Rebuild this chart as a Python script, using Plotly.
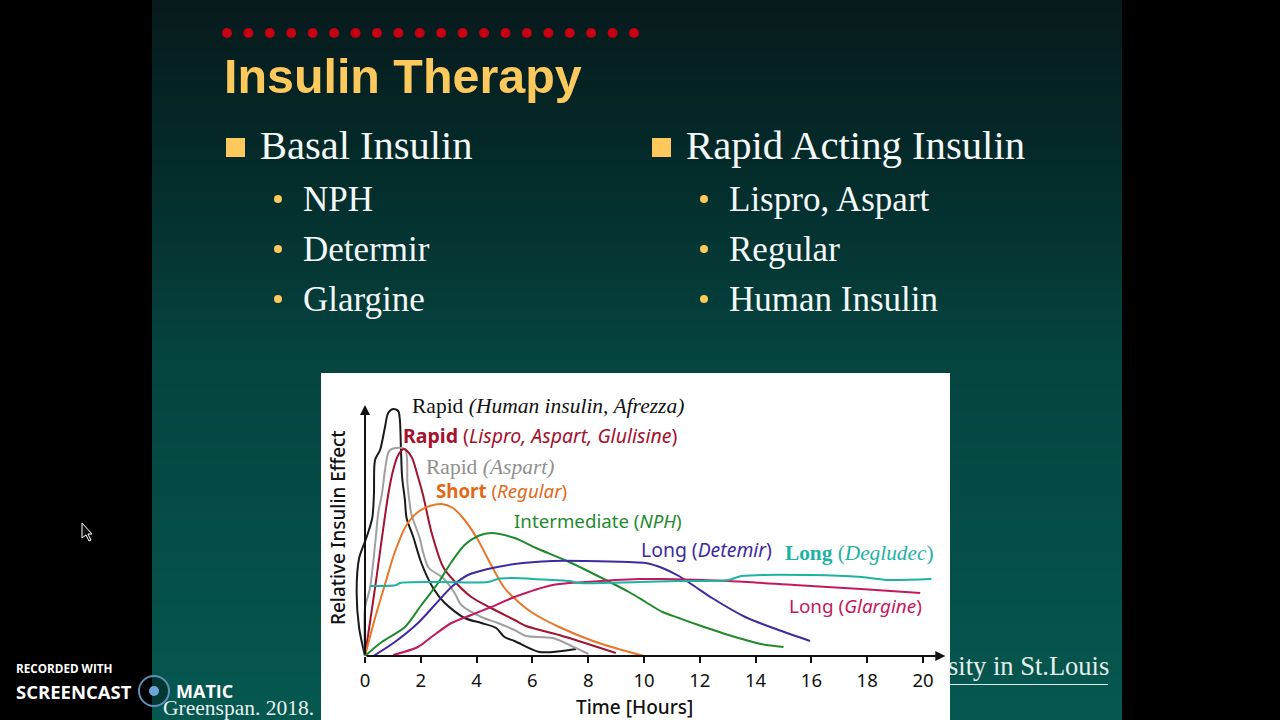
import plotly.graph_objects as go

W, H = 1280, 720

# curves: hours, relative effect
afrezza_x = [0, -0.21, -0.3, -0.21, 0.06, 0.26, 0.32, 0.36, 0.54, 0.71, 0.83, 1.01, 1.19, 1.25, 1.29, 1.33, 1.43, 1.49, 1.73, 2.02, 2.44, 2.86, 3.57, 4.17, 4.7, 5.0, 5.36, 6.25, 7.56]
afrezza_y = [0, 28, 64, 98, 119, 138, 161, 196, 206, 228, 243, 247, 245, 236, 206, 179, 156, 138, 119, 93, 68, 53, 38, 33, 28, 19, 15, 4, 7]
aspart_x = [0, 0, 0.18, 0.36, 0.48, 0.6, 0.83, 0.95, 1.43, 1.52, 1.61, 1.67, 1.96, 2.08, 2.29, 2.8, 3.21, 3.45, 4.17, 4.76, 5.36, 5.77, 6.73, 7.56, 8.01]
aspart_y = [0, 48, 68, 111, 144, 161, 203, 207, 207, 173, 151, 141, 118, 104, 88, 78, 63, 51, 39, 33, 26, 20, 18, 8, 2]
lispro_x = [0, 0.36, 0.83, 1.01, 1.19, 1.4, 1.67, 1.9, 2.08, 2.38, 2.8, 3.1, 3.81, 4.52, 5.36, 5.77, 6.96, 8.99]
lispro_y = [0, 68, 161, 186, 201, 207, 199, 179, 161, 124, 89, 78, 59, 48, 36, 30, 21, 3]
regular_x = [0, 0.36, 0.71, 1.07, 1.49, 1.9, 2.32, 2.74, 3.15, 3.57, 4.05, 4.52, 5.0, 5.42, 6.01, 6.96, 8.27, 10]
regular_y = [0, 38, 71, 104, 131, 144, 150, 152, 148, 136, 116, 91, 68, 56, 43, 29, 14, 0]
nph_x = [0, 0.6, 1.43, 2.02, 2.62, 3.1, 3.57, 4.05, 4.52, 5.36, 6.13, 7.32, 8.63, 9.46, 10.06, 10.66, 11.25, 11.85, 13.03, 14.2, 15]
nph_y = [0, 14, 29, 51, 73, 94, 111, 120, 123, 118, 108, 94, 76, 64, 54, 44, 38, 32, 21, 12, 9]
detemir_x = [0.3, 1.07, 1.9, 2.5, 3.1, 3.69, 4.4, 5.36, 6.73, 7.92, 9.46, 10.06, 10.66, 11.25, 11.85, 12.44, 13.63, 14.82, 15.95]
detemir_y = [0, 14, 33, 51, 69, 81, 87, 92, 95, 95, 94, 93, 88, 80, 69, 58, 39, 26, 15]
glargine_x = [1.01, 1.9, 2.38, 3.1, 3.81, 4.52, 5.36, 6.73, 7.92, 9.82, 10.66, 13.03, 15.4, 17.78, 19.9]
glargine_y = [1, 9, 19, 33, 41, 49, 59, 71, 74, 77, 77, 75, 71, 67, 63]
degludec_x = [0.18, 1.13, 1.25, 2.62, 4.4, 4.76, 5.36, 6.01, 7.32, 7.68, 9.82, 11.25, 13.03, 13.5, 16, 17.8, 18.75, 20.3]
degludec_y = [70, 71, 73, 74, 74, 77, 78, 77, 75, 73, 74, 75, 76, 80, 81, 79, 76, 77]

tick_vals = [0, 2, 4, 6, 8, 10, 12, 14, 16, 18, 20]

basal_items = ["NPH", "Determir", "Glargine"]
rapid_items = ["Lispro, Aspart", "Regular", "Human Insulin"]

# plot area in pixels of the page
X0, X1 = 323, 947
Y0, Y1 = 656, 405


def px(x):
    return x / W


def py(y):
    return 1 - y / H


def rect(x0, y0, x1, y1, color, kind="rect"):
    return dict(type=kind, xref="paper", yref="paper", x0=px(x0), x1=px(x1), y0=py(y1), y1=py(y0),
                fillcolor=color, line_width=0, layer="below")


def label(x, y, text, size, color, family, anchor="left", weight=None, **kw):
    # annotations keep about 2 px of padding on the left
    left = x - 2 if anchor == "left" else x
    return dict(xref="paper", yref="paper", x=px(left), y=py(y), text=text, showarrow=False, xanchor=anchor,
                yanchor="middle", font=dict(size=size, color=color, family=family, weight=weight), **kw)


SERIF = "Liberation Serif"
SANS = "Liberation Sans"
CHART = "Noto Sans"
GOLD = "#fdc95c"
WHITE = "#f4f8f8"

# slide background, dark at the top and teal at the bottom
stops = [(0, (8, 26, 28)), (120, (4, 38, 38)), (360, (5, 68, 63)), (720, (5, 88, 80))]


def band_color(y):
    for (a, ca), (b, cb) in zip(stops, stops[1:]):
        if y <= b:
            t = (y - a) / (b - a)
            return "rgb(%d,%d,%d)" % tuple(round(p + (q - p) * t) for p, q in zip(ca, cb))


shapes = [rect(0, 0, W, H, "#000000")]
for y in range(0, H, 5):
    shapes.append(rect(152, y, 1122, y + 5.5, band_color(y)))

# row of red dots above the title
for i in range(20):
    cx = 227 + i * 21.42
    shapes.append(rect(cx - 5, 28, cx + 5, 38, "#c40012", "circle"))

# bullets
shapes.append(rect(226, 138, 245, 157, GOLD))
shapes.append(rect(652, 138, 671, 157, GOLD))
for cy in [199, 249, 299]:
    shapes.append(rect(274, cy - 4, 282, cy + 4, GOLD, "circle"))
    shapes.append(rect(700, cy - 4, 708, cy + 4, GOLD, "circle"))

# white panel behind the chart and logo underline
shapes.append(rect(321, 373, 950, 720, "#ffffff"))
shapes.append(rect(950, 684, 1108, 685, "#dfe8e6"))

# watermark ring and mouse pointer
shapes.append(dict(type="circle", xref="paper", yref="paper", x0=px(139), x1=px(169), y0=py(706), y1=py(676),
                   line=dict(color="#5f8fb8", width=2), fillcolor="rgba(0,0,0,0.35)", layer="above"))
shapes.append(rect(149, 686, 159, 696, "#6aa5dc", "circle") | dict(layer="above"))
cursor = [(82, 523), (82, 538), (86, 535), (89, 541), (91, 540), (88, 534), (92, 534)]
shapes.append(dict(type="path", xref="paper", yref="paper",
                   path="M " + " L ".join("%.5f %.5f" % (px(a), py(b)) for a, b in cursor) + " Z",
                   fillcolor="#111111", line=dict(color="#ffffff", width=1), layer="above"))

annotations = [
    label(224, 76, "<b>Insulin Therapy</b>", 48.4, GOLD, SANS),
    label(260, 146, "Basal Insulin", 40.5, WHITE, SERIF),
    label(686, 146, "Rapid Acting Insulin", 40.7, WHITE, SERIF),
    label(948, 666, "sity in St.Louis", 26.5, "#e6eeec", SERIF),
    label(163, 708, "Greenspan. 2018.", 21.5, "#e8f0ee", SERIF),
    label(16, 668, "<b>RECORDED WITH</b>", 11.7, "#ffffff", "Open Sans"),
    label(16, 691, "<b>SCREENCAST</b>", 18.5, "#ffffff", "Open Sans"),
    label(176, 691, "<b>MATIC</b>", 18, "#ffffff", "Open Sans"),
    label(338, 528, "Relative Insulin Effect", 18.9, "#111111", CHART, anchor="center", weight=500, textangle=-90),
    label(634, 707, "Time [Hours]", 19, "#111111", CHART, anchor="center", weight=500),
    label(412, 406, "Rapid <i>(Human insulin, Afrezza)</i>", 21.5, "#111111", SERIF),
    label(403, 436, "<b>Rapid</b> (<i>Lispro, Aspart, Glulisine</i>)", 19.5, "#a3122f", CHART),
    label(426, 467, "Rapid <i>(Aspart)</i>", 21.5, "#8f8f8f", SERIF),
    label(436, 490, "<b>Short</b> (<i>Regular</i>)", 18.7, "#e0691a", CHART),
    label(514, 520, "Intermediate (<i>NPH</i>)", 18.7, "#1f8a2c", CHART),
    label(641, 549, "Long (<i>Detemir</i>)", 19.4, "#3d2ba0", CHART),
    label(785, 553, "<b>Long</b> (<i>Degludec</i>)", 21.3, "#1db3a3", SERIF),
    label(789, 606, "Long (<i>Glargine</i>)", 18.9, "#c4185c", CHART),
]
for i, item in enumerate(basal_items):
    annotations.append(label(303, 199 + i * 50, item, 35, WHITE, SERIF))
for i, item in enumerate(rapid_items):
    annotations.append(label(729, 199 + i * 50, item, 35, WHITE, SERIF))

# axes drawn as arrows from the origin
for ax_x, ax_y in [(20.8, 0), (0, 251)]:
    annotations.append(dict(x=ax_x, y=ax_y, ax=0, ay=0, xref="x", yref="y", axref="x", ayref="y", text="",
                            showarrow=True, arrowhead=2, arrowsize=1, arrowwidth=2, arrowcolor="#111111"))

series = [
    (afrezza_x, afrezza_y, "Rapid (Human insulin, Afrezza)", "#1a1a1a"),
    (aspart_x, aspart_y, "Rapid (Aspart)", "#a0a0a0"),
    (lispro_x, lispro_y, "Rapid (Lispro, Aspart, Glulisine)", "#a3122f"),
    (regular_x, regular_y, "Short (Regular)", "#e8772a"),
    (nph_x, nph_y, "Intermediate (NPH)", "#1f8a2c"),
    (detemir_x, detemir_y, "Long (Detemir)", "#3d2ba0"),
    (glargine_x, glargine_y, "Long (Glargine)", "#c4185c"),
    (degludec_x, degludec_y, "Long (Degludec)", "#1db3a3"),
]

fig = go.Figure()
for xs, ys, name, color in series:
    fig.add_trace(go.Scatter(x=xs, y=ys, name=name, mode="lines", cliponaxis=False,
                             line=dict(color=color, width=2, shape="spline", smoothing=0.8)))

x_per_px = 20 / (923 - 365)
fig.update_layout(
    width=W, height=H,
    margin=dict(l=0, r=0, t=0, b=0),
    paper_bgcolor="#000000", plot_bgcolor="rgba(0,0,0,0)",
    showlegend=False,
    shapes=shapes, annotations=annotations,
    xaxis=dict(domain=[px(X0), px(X1)], range=[(X0 - 365) * x_per_px, (X1 - 365) * x_per_px],
               tickvals=tick_vals, showgrid=False, zeroline=False, showline=False,
               ticks="outside", ticklen=6, tickwidth=2, tickcolor="#111111", ticklabelstandoff=2,
               tickfont=dict(size=18.5, color="#111111", family=CHART)),
    yaxis=dict(domain=[py(Y0), py(Y1)], range=[0, 251], showticklabels=False, ticks="",
               showgrid=False, zeroline=False, showline=False),
)
# the page's default body margin would shift the slide by 8 px
fig.write_html("out.html", config=dict(displayModeBar=False),
               post_script="document.body.style.margin='0';document.body.style.overflow='hidden';")
